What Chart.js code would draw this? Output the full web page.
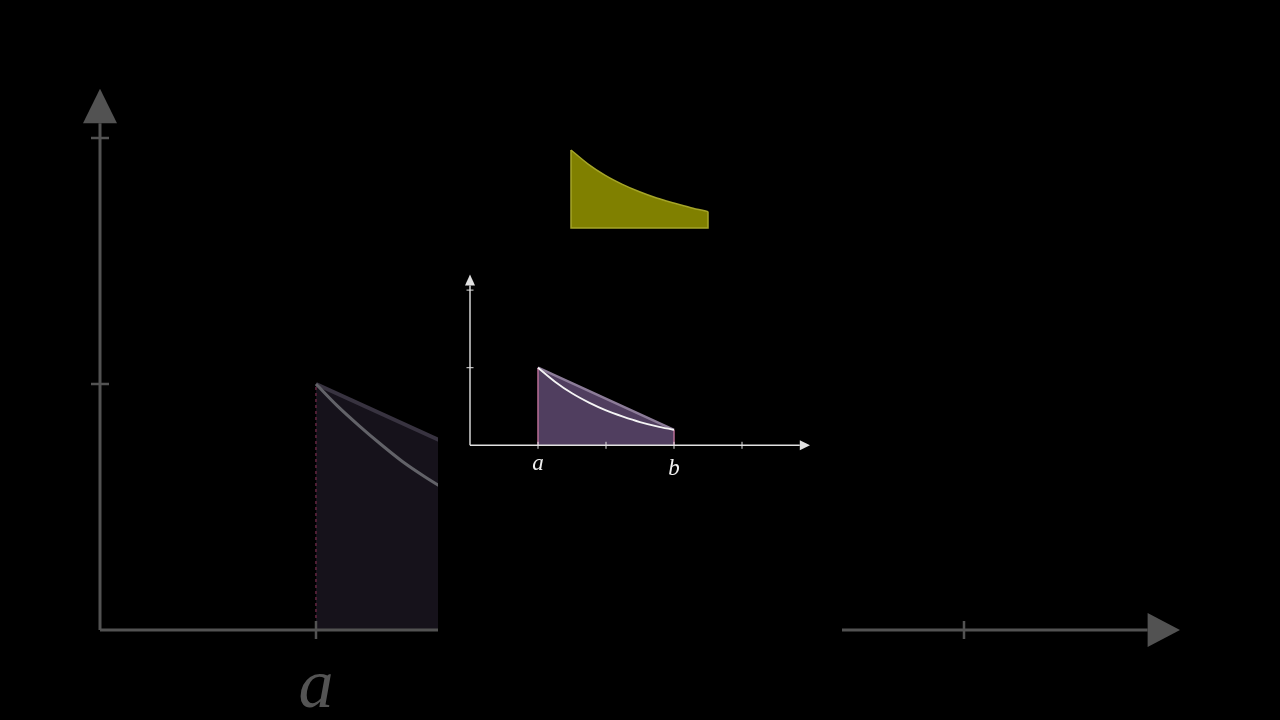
<!DOCTYPE html>
<html><head><meta charset="utf-8">
<script src="https://cdn.jsdelivr.net/npm/chart.js@4.4.0/dist/chart.umd.min.js"></script>
<style>
html,body{margin:0;padding:0;background:#000;width:1280px;height:720px;overflow:hidden}
canvas{position:absolute;left:0;top:0}
#mask{position:absolute;left:438px;top:0;width:404px;height:720px;background:#000}
</style></head><body>
<canvas id="big" width="1280" height="720"></canvas>
<div id="mask"></div>
<canvas id="front" width="1280" height="720"></canvas>
<script>
// ---- data ----
const curveX        = [1, 1.25, 1.5, 1.75, 2, 2.25, 2.5, 2.75, 3];
const smallCurveY   = [1, 0.82, 0.67, 0.55, 0.45, 0.37, 0.30, 0.245, 0.20];
const yellowCurveY  = [1, 0.82, 0.675, 0.56, 0.465, 0.385, 0.32, 0.26, 0.21];
const bigCurveX     = [1, 1.1, 1.2, 1.3, 1.4, 1.5, 1.6];
const bigCurveY     = [1, 0.91, 0.83, 0.755, 0.685, 0.625, 0.57];
const chordX        = [1, 3];
const chordY        = [1, 0.2];
const xTickValues   = [1, 2, 3, 4];
const yTickValues   = [1, 2];
const labelValues   = [1, 3];
const labelTexts    = ['a', 'b'];
const bigLabelValues = [1];
const bigLabelTexts  = ['a'];

const pts = (xs, ys) => xs.map((x, i) => ({x, y: ys[i]}));

// ---- axes / arrows / ticks / labels plugin ----
const axesPlugin = {
  id: 'axes',
  afterDatasetsDraw(chart, args, opts) {
    const ctx = chart.ctx;
    (opts.sets || []).forEach(s => {
      const xs = chart.scales[s.x], ys = chart.scales[s.y];
      const ox = xs.getPixelForValue(0), oy = ys.getPixelForValue(0);
      ctx.save();
      ctx.strokeStyle = s.color; ctx.fillStyle = s.color; ctx.lineWidth = s.lw;
      ctx.lineCap = 'butt';
      const xe = xs.getPixelForValue(s.xEnd), ye = ys.getPixelForValue(s.yEnd);
      ctx.beginPath(); ctx.moveTo(ox, oy); ctx.lineTo(xe, oy);
      ctx.moveTo(ox, oy); ctx.lineTo(ox, ye); ctx.stroke();
      const xt = xs.getPixelForValue(s.xTip), yt = ys.getPixelForValue(s.yTip);
      ctx.beginPath(); ctx.moveTo(xt, oy); ctx.lineTo(xe, oy - s.head); ctx.lineTo(xe, oy + s.head); ctx.closePath(); ctx.fill();
      ctx.beginPath(); ctx.moveTo(ox, yt); ctx.lineTo(ox - s.head, ye); ctx.lineTo(ox + s.head, ye); ctx.closePath(); ctx.fill();
      ctx.lineWidth = s.tickLw;
      ctx.beginPath();
      s.xTicks.forEach(v => { const px = xs.getPixelForValue(v); ctx.moveTo(px, oy - s.tick); ctx.lineTo(px, oy + s.tick); });
      s.yTicks.forEach(v => { const py = ys.getPixelForValue(v); ctx.moveTo(ox - s.tick, py); ctx.lineTo(ox + s.tick, py); });
      ctx.stroke();
      ctx.fillStyle = s.labelColor;
      ctx.font = s.font;
      ctx.textAlign = 'center';
      ctx.textBaseline = 'alphabetic';
      s.labels.forEach((t, i) => {
        const px = xs.getPixelForValue(s.labelValues[i]);
        const m = ctx.measureText(t);
        ctx.fillText(t, px, oy + s.labelGap + m.actualBoundingBoxAscent);
      });
      ctx.restore();
    });
  }
};

const hidden = (min, max) => ({type: 'linear', display: false, min, max});
const baseOpts = {
  responsive: false, maintainAspectRatio: false, animation: false,
  devicePixelRatio: 1,
  layout: {padding: 0},
  plugins: {legend: {display: false}, tooltip: {enabled: false}},
  elements: {point: {radius: 0, hoverRadius: 0}}
};

// ---- big faded chart ----
new Chart(document.getElementById('big'), {
  type: 'scatter',
  data: {datasets: [
    {data: pts(bigCurveX, bigCurveY), showLine: true, borderColor: 'rgb(98,98,104)', borderWidth: 3,
     cubicInterpolationMode: 'monotone', xAxisID: 'xB', yAxisID: 'yB', order: 1},
    {data: [{x: 1, y: 0}, {x: 1, y: 1}], showLine: true, borderColor: 'rgb(78,30,52)', borderWidth: 2,
     borderDash: [3, 3], xAxisID: 'xB', yAxisID: 'yB', order: 2},
    {data: pts(chordX, chordY), showLine: true, fill: 'origin', backgroundColor: 'rgb(22,18,27)',
     borderColor: 'rgb(56,51,64)', borderWidth: 4, xAxisID: 'xB', yAxisID: 'yB', order: 3}
  ]},
  options: Object.assign({}, baseOpts, {
    scales: {xB: hidden(-100 / 216, 1180 / 216), yB: hidden(-90 / 246, 630 / 246)},
    plugins: Object.assign({}, baseOpts.plugins, {axes: {sets: [{
      x: 'xB', y: 'yB', color: 'rgb(82,82,82)', lw: 3, tickLw: 2.5,
      xEnd: 4.85, xTip: 5.0, yEnd: 2.06, yTip: 2.2, head: 17, tick: 9,
      xTicks: xTickValues, yTicks: yTickValues,
      labels: bigLabelTexts, labelValues: bigLabelValues, labelGap: 44,
      labelColor: 'rgb(84,84,84)', font: 'italic 70px "Liberation Serif", "DejaVu Serif", serif'
    }]}})
  }),
  plugins: [axesPlugin]
});

// ---- front: small chart + yellow region ----
new Chart(document.getElementById('front'), {
  type: 'scatter',
  data: {datasets: [
    {data: pts(curveX, smallCurveY), showLine: true, borderColor: 'rgb(245,245,245)', borderWidth: 1.8,
     cubicInterpolationMode: 'monotone', xAxisID: 'xS', yAxisID: 'yS', order: 1},
    {data: [{x: 1, y: 0}, {x: 1, y: 1}], showLine: true, borderColor: 'rgb(185,110,150)', borderWidth: 1.5,
     xAxisID: 'xS', yAxisID: 'yS', order: 2},
    {data: [{x: 3, y: 0}, {x: 3, y: 0.2}], showLine: true, borderColor: 'rgb(185,110,150)', borderWidth: 1.5,
     xAxisID: 'xS', yAxisID: 'yS', order: 2},
    {data: pts(chordX, chordY), showLine: true, fill: 'origin', backgroundColor: 'rgb(80,62,95)',
     borderColor: 'rgb(140,124,152)', borderWidth: 2.5, xAxisID: 'xS', yAxisID: 'yS', order: 3},
    {data: [{x: 1, y: 1}, {x: 1, y: 0}, {x: 3, y: 0}, {x: 3, y: 0.21}], showLine: true,
     borderColor: 'rgb(165,165,40)', borderWidth: 1.5, xAxisID: 'xY', yAxisID: 'yY', order: 4},
    {data: pts(curveX, yellowCurveY), showLine: true, fill: 'origin', backgroundColor: 'rgb(128,128,0)',
     borderColor: 'rgb(165,165,40)', borderWidth: 1.5, cubicInterpolationMode: 'monotone',
     xAxisID: 'xY', yAxisID: 'yY', order: 5}
  ]},
  options: Object.assign({}, baseOpts, {
    scales: {
      xS: hidden(-470 / 68, 810 / 68), yS: hidden(-274.7 / 77.6, 445.3 / 77.6),
      xY: hidden(-502.5 / 68.5, 777.5 / 68.5), yY: hidden(-492 / 78, 228 / 78)
    },
    plugins: Object.assign({}, baseOpts.plugins, {axes: {sets: [{
      x: 'xS', y: 'yS', color: 'rgb(225,225,225)', lw: 1.4, tickLw: 1,
      xEnd: 4.85, xTip: 5.0, yEnd: 2.06, yTip: 2.2, head: 5, tick: 3.5,
      xTicks: xTickValues, yTicks: yTickValues,
      labels: labelTexts, labelValues: labelValues, labelGap: 14,
      labelColor: 'rgb(240,240,240)', font: 'italic 23px "Liberation Serif", "DejaVu Serif", serif'
    }]}})
  }),
  plugins: [axesPlugin]
});
</script>
</body></html>
